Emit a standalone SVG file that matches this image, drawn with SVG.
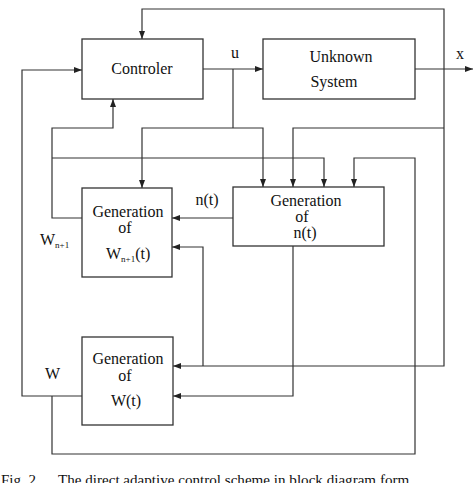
<svg xmlns="http://www.w3.org/2000/svg" width="474" height="483" viewBox="0 0 474 483" font-family="'Liberation Serif', 'DejaVu Serif', serif">
<defs>
<style>
.box{fill:#fff;stroke:#333;stroke-width:1.3}
.ln{fill:none;stroke:#333;stroke-width:1.2}
.arr{marker-end:url(#ah)}
text{font-family:'Liberation Serif','DejaVu Serif',serif;fill:#111}
.t{font-size:16px;text-anchor:middle}
.lb{font-size:16px}
.sub{font-size:9px}
.cap{font-size:15px}
</style>
<marker id="ah" markerUnits="userSpaceOnUse" markerWidth="8" markerHeight="6" refX="8" refY="3" orient="auto">
<path d="M0,0 L8,3 L0,6 z" fill="#222"/>
</marker>
</defs>
<rect width="474" height="483" fill="#fff"/>
<g id="connectors">
<path class="ln arr" d="M203,69 H263"/>
<path class="ln arr" d="M415,69 H473"/>
<path class="ln arr" d="M444,69 V9 H142 V39"/>
<path class="ln arr" d="M444,69 V366 H173"/>
<path class="ln arr" d="M444,128 H293 V187"/>
<path class="ln arr" d="M203,366 V247 H172"/>
<path class="ln" d="M233,69 V128"/>
<path class="ln arr" d="M233,128 H142 V188"/>
<path class="ln arr" d="M233,128 H263 V187"/>
<path class="ln arr" d="M233,218 H172"/>
<path class="ln arr" d="M293,246 V396 H173"/>
<path class="ln arr" d="M82,218 H52 V128 H113 V99"/>
<path class="ln arr" d="M52,158 H324 V187"/>
<path class="ln arr" d="M82,396 H22 V70 H82"/>
<path class="ln arr" d="M52,396 V454 H415 V158 H354 V187"/>
</g>
<g id="controller">
<rect class="box" x="82" y="39" width="121" height="60"/>
<text class="t" x="142" y="74">Controler</text>
</g>
<g id="unknown-system">
<rect class="box" x="263" y="39" width="152" height="60"/>
<text class="t" x="341" y="62">Unknown</text>
<text class="t" x="334" y="87">System</text>
</g>
<g id="gen-n">
<rect class="box" x="233" y="187" width="151" height="59"/>
<text class="t" x="306" y="206">Generation</text>
<text class="t" x="302" y="222">of</text>
<text class="t" x="305" y="238">n(t)</text>
</g>
<g id="gen-wn1">
<rect class="box" x="82" y="188" width="90" height="89"/>
<text class="t" x="128" y="217">Generation</text>
<text class="t" x="125" y="233">of</text>
<text class="lb" x="106" y="259">W<tspan class="sub" dy="3">n+1</tspan><tspan dy="-3">(t)</tspan></text>
</g>
<g id="gen-w">
<rect class="box" x="82" y="337" width="91" height="88"/>
<text class="t" x="128" y="364">Generation</text>
<text class="t" x="125" y="381">of</text>
<text class="t" x="126" y="406">W(t)</text>
</g>
<g id="labels">
<text class="lb" x="235" y="58" text-anchor="middle">u</text>
<text class="lb" x="460" y="59" text-anchor="middle">x</text>
<text class="lb" x="207" y="205" text-anchor="middle">n(t)</text>
<text class="lb" x="40" y="245">W<tspan class="sub" dy="3">n+1</tspan></text>
<text class="lb" x="45" y="379">W</text>
<text class="cap" x="1" y="485">Fig. 2</text>
<text class="cap" x="58" y="485" textLength="355" lengthAdjust="spacingAndGlyphs">The direct adaptive control scheme in block diagram form.</text>
</g>
</svg>
